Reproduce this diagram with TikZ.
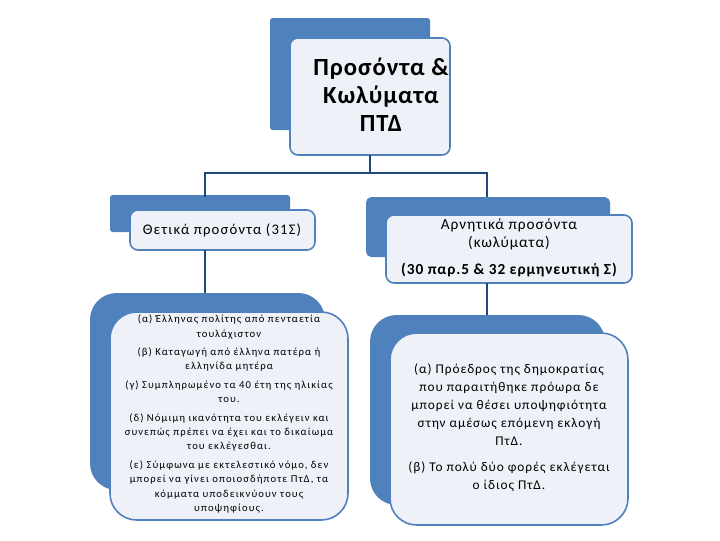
\documentclass[tikz,border=0pt]{standalone}
\usepackage{fontspec}
\setmainfont{Carlito}
\definecolor{dkb}{HTML}{4F81BD}
\definecolor{lfill}{HTML}{EEF2F8}
\definecolor{lnk}{HTML}{1F497D}
\begin{document}
\begin{tikzpicture}[x=0.75pt,y=-0.75pt,
  back/.style={fill=dkb,draw=none},
  front/.style={fill=lfill,draw=dkb,line width=1.2pt},
  lnkline/.style={draw=lnk,line width=0.8pt},
  txt/.style={align=center,text=black,inner sep=0pt}]
\useasboundingbox[fill=white] (0,0) rectangle (720,540);
% top
\fill[back,rounded corners=2pt] (270,18) rectangle (430,130);
\draw[front,rounded corners=6pt] (290,38) rectangle (450,155);
\node[txt,font=\bfseries\fontsize{18.5}{21}\selectfont\addfontfeature{LetterSpace=4}] (top) at (381,95) {Προσόντα \&\\Κωλύματα\\ΠΤΔ};
\coordinate (tb) at (370,155);
% mid left
\fill[back,rounded corners=2pt] (110,195) rectangle (290,232);
\draw[front,rounded corners=6pt] (130,210) rectangle (315,250);
\node[txt,font=\fontsize{11}{13}\selectfont\addfontfeature{LetterSpace=8}] (ml) at (222,230) {Θετικά προσόντα (31Σ)};
% mid right
\fill[back,rounded corners=4pt] (366,197) rectangle (610,257);
\draw[front,rounded corners=6pt] (386,215) rectangle (632,283);
\node[txt,font=\fontsize{11.5}{13.5}\selectfont\addfontfeature{LetterSpace=6}] (mr) at (509,234) {Αρνητικά προσόντα\\(κωλύματα)};
\node[txt,font=\bfseries\fontsize{11.5}{13}\selectfont\addfontfeature{LetterSpace=6}] (mr2) at (509,270) {(30 παρ.5 \& 32 ερμηνευτική Σ)};
% connectors
\coordinate (hl) at (205,173);
\coordinate (hr) at (487,173);
\coordinate (hm) at (370,173);
\draw[lnkline] (tb) -- (hm);
\draw[lnkline] (205,197) -- (hl) -- (hr) -- (487,197);
\draw[lnkline] (205,250) -- (205,293);
\draw[lnkline] (487,283) -- (487,315);
% bottom left
\fill[back,rounded corners=20pt] (90,293) rectangle (325,490);
\draw[front,rounded corners=20pt] (110,312) rectangle (348,520);
\node[txt,font=\fontsize{8}{10.8}\selectfont\addfontfeature{LetterSpace=10}] (bl) at (229,414) {%
(α) Έλληνας πολίτης από πενταετία\\ τουλάχιστον\\[3pt]
(β) Καταγωγή από έλληνα πατέρα ή\\ ελληνίδα μητέρα\\[3pt]
(γ) Συμπληρωμένο τα 40 έτη της ηλικίας\\ του.\\[3pt]
(δ) Νόμιμη ικανότητα του εκλέγειν και\\ συνεπώς πρέπει να έχει και το δικαίωμα\\ του εκλέγεσθαι.\\[3pt]
(ε) Σύμφωνα με εκτελεστικό νόμο, δεν\\ μπορεί να γίνει οποιοσδήποτε ΠτΔ, τα\\ κόμματα υποδεικνύουν τους\\ υποψηφίους.};
% bottom right
\fill[back,rounded corners=20pt] (370,315) rectangle (605,505);
\draw[front,rounded corners=20pt] (390,333) rectangle (628,525);
\node[txt,font=\fontsize{10}{13.5}\selectfont\addfontfeature{LetterSpace=7}] (br) at (509,428) {%
(α) Πρόεδρος της δημοκρατίας\\ που παραιτήθηκε πρόωρα δε\\ μπορεί να θέσει υποψηφιότητα\\ στην αμέσως επόμενη εκλογή\\ ΠτΔ.\\[6pt]
(β) Το πολύ δύο φορές εκλέγεται\\ ο ίδιος ΠτΔ.};
\end{tikzpicture}
\end{document}
